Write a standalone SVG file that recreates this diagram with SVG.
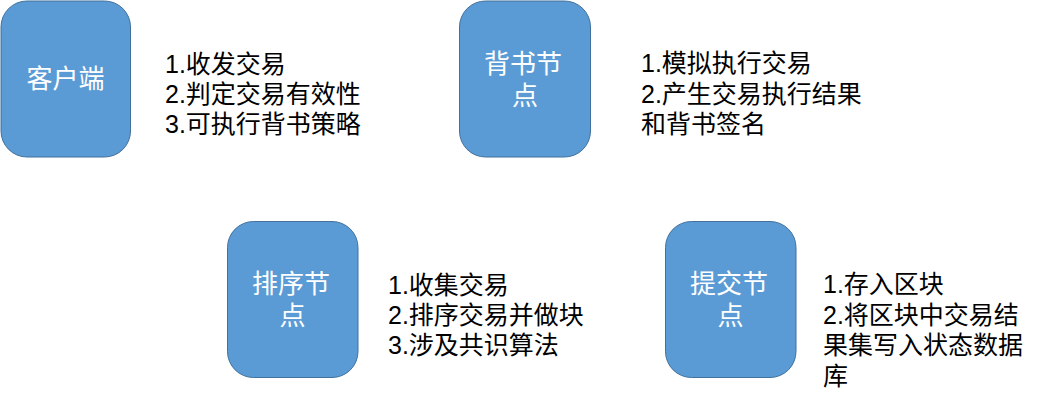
<svg xmlns="http://www.w3.org/2000/svg" width="1052" height="406" viewBox="0 0 1052 406">
<style>
.box{fill:#5b9bd5;stroke:#41719c;stroke-width:1}
.lbl{font-family:"Liberation Sans","Noto Sans CJK SC",sans-serif;font-size:26px;fill:#ffffff;text-anchor:middle}
.desc{font-family:"Liberation Sans","Noto Sans CJK SC",sans-serif;font-size:25px;fill:#000000}
</style>
<rect width="1052" height="406" fill="#ffffff"/>
<g id="connectors"/>
<g id="client">
<rect class="box" x="1" y="1" width="129.5" height="156" rx="26" ry="26"/>
<text class="lbl" x="65.5" y="88">客户端</text>
<text class="desc" x="165" y="72.5"><tspan x="165">1.收发交易</tspan><tspan x="165" dy="30">2.判定交易有效性</tspan><tspan x="165" dy="30">3.可执行背书策略</tspan></text>
</g>
<g id="endorser">
<rect class="box" x="459.5" y="1" width="131" height="156" rx="26" ry="26"/>
<text class="lbl" x="525" y="72.5"><tspan x="523" >背书节</tspan><tspan x="525" dy="32.5">点</tspan></text>
<text class="desc" x="641" y="72"><tspan x="641">1.模拟执行交易</tspan><tspan x="641" dy="30.5">2.产生交易执行结果</tspan><tspan x="641" dy="30.5">和背书签名</tspan></text>
</g>
<g id="orderer">
<rect class="box" x="227.5" y="221.5" width="130.5" height="156" rx="26" ry="26"/>
<text class="lbl" x="292" y="292.5"><tspan x="291">排序节</tspan><tspan x="292.5" dy="32">点</tspan></text>
<text class="desc" x="388" y="294"><tspan x="388">1.收集交易</tspan><tspan x="388" dy="30">2.排序交易并做块</tspan><tspan x="388" dy="30">3.涉及共识算法</tspan></text>
</g>
<g id="committer">
<rect class="box" x="665.5" y="221.5" width="130.5" height="156" rx="26" ry="26"/>
<text class="lbl" x="730" y="292.5"><tspan x="729">提交节</tspan><tspan x="730.5" dy="32">点</tspan></text>
<text class="desc" x="823" y="293"><tspan x="823">1.存入区块</tspan><tspan x="823" dy="30.5">2.将区块中交易结</tspan><tspan x="823" dy="30.5">果集写入状态数据</tspan><tspan x="823" dy="30.5">库</tspan></text>
</g>
</svg>
